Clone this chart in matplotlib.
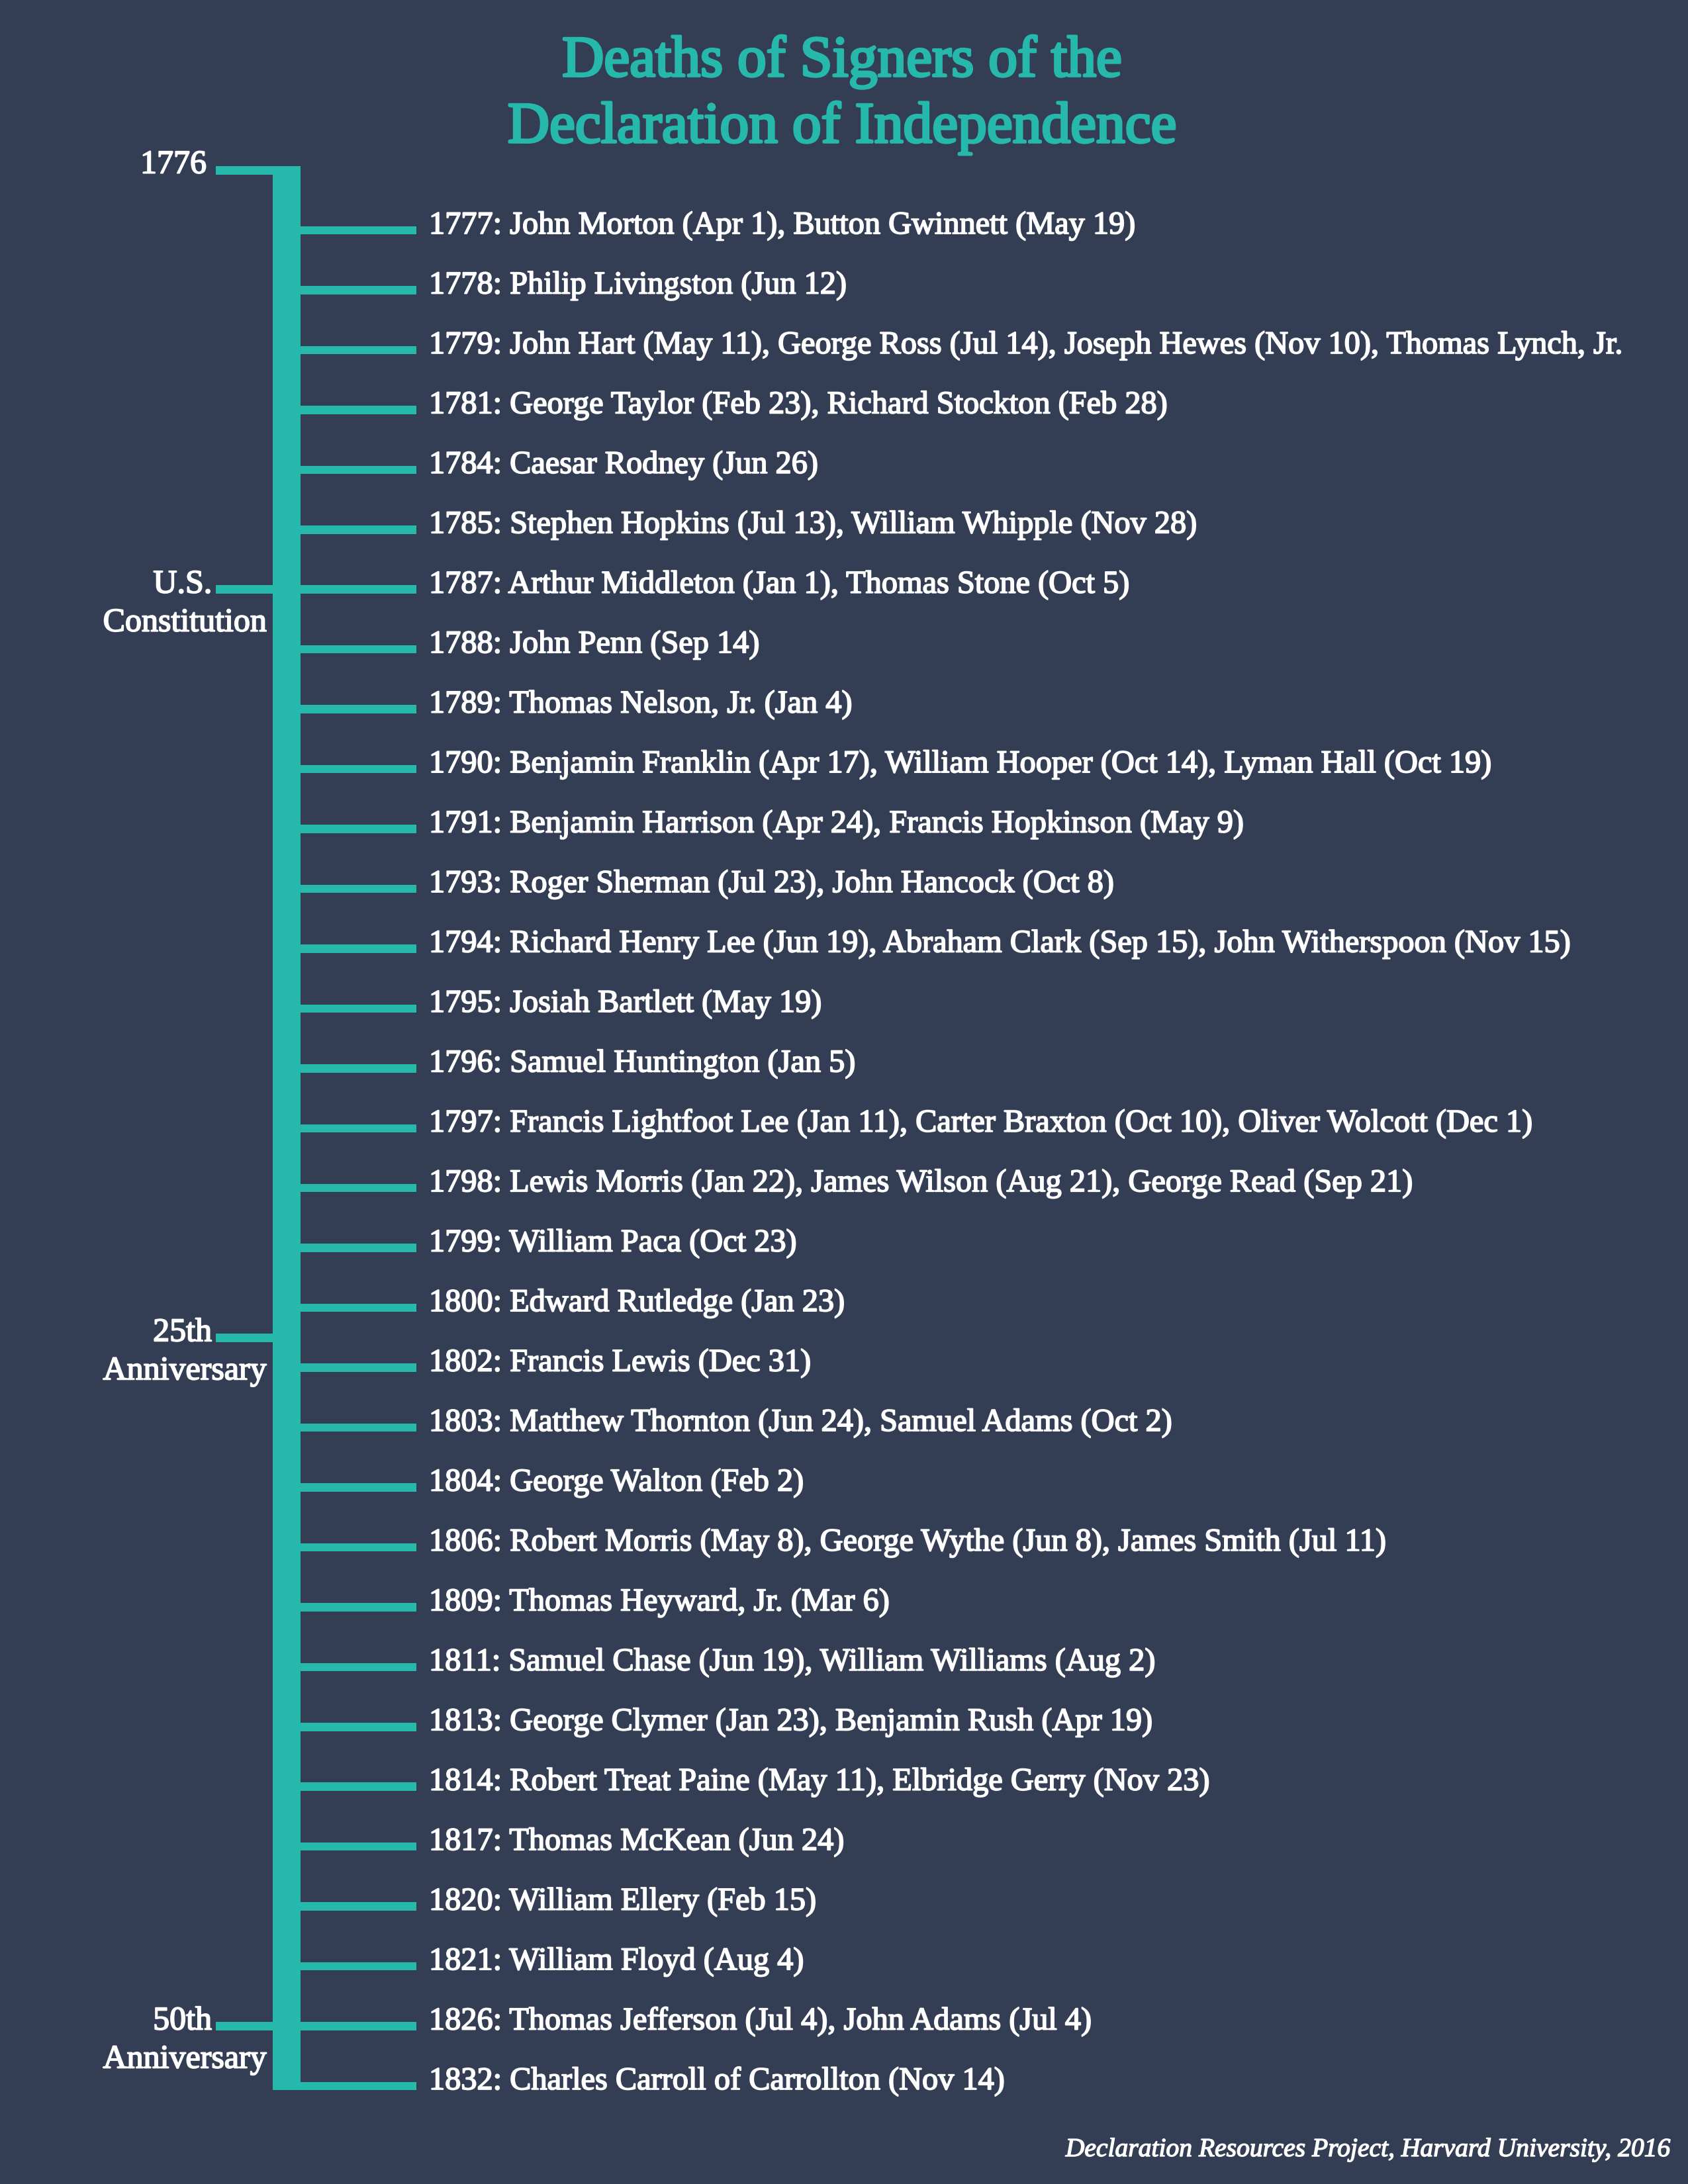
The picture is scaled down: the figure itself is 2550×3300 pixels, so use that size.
import numpy as np
import matplotlib
matplotlib.use("Agg")
import matplotlib.pyplot as plt
import matplotlib.patheffects as pe

# --- data ---
START_YEAR = "1776"
years = [1777, 1778, 1779, 1781, 1784, 1785, 1787, 1788, 1789, 1790, 1791,
         1793, 1794, 1795, 1796, 1797, 1798, 1799, 1800, 1802, 1803, 1804,
         1806, 1809, 1811, 1813, 1814, 1817, 1820, 1821, 1826, 1832]
signers = [
    "John Morton (Apr 1), Button Gwinnett (May 19)",
    "Philip Livingston (Jun 12)",
    "John Hart (May 11), George Ross (Jul 14), Joseph Hewes (Nov 10), Thomas Lynch, Jr.",
    "George Taylor (Feb 23), Richard Stockton (Feb 28)",
    "Caesar Rodney (Jun 26)",
    "Stephen Hopkins (Jul 13), William Whipple (Nov 28)",
    "Arthur Middleton (Jan 1), Thomas Stone (Oct 5)",
    "John Penn (Sep 14)",
    "Thomas Nelson, Jr. (Jan 4)",
    "Benjamin Franklin (Apr 17), William Hooper (Oct 14), Lyman Hall (Oct 19)",
    "Benjamin Harrison (Apr 24), Francis Hopkinson (May 9)",
    "Roger Sherman (Jul 23), John Hancock (Oct 8)",
    "Richard Henry Lee (Jun 19), Abraham Clark (Sep 15), John Witherspoon (Nov 15)",
    "Josiah Bartlett (May 19)",
    "Samuel Huntington (Jan 5)",
    "Francis Lightfoot Lee (Jan 11), Carter Braxton (Oct 10), Oliver Wolcott (Dec 1)",
    "Lewis Morris (Jan 22), James Wilson (Aug 21), George Read (Sep 21)",
    "William Paca (Oct 23)",
    "Edward Rutledge (Jan 23)",
    "Francis Lewis (Dec 31)",
    "Matthew Thornton (Jun 24), Samuel Adams (Oct 2)",
    "George Walton (Feb 2)",
    "Robert Morris (May 8), George Wythe (Jun 8), James Smith (Jul 11)",
    "Thomas Heyward, Jr. (Mar 6)",
    "Samuel Chase (Jun 19), William Williams (Aug 2)",
    "George Clymer (Jan 23), Benjamin Rush (Apr 19)",
    "Robert Treat Paine (May 11), Elbridge Gerry (Nov 23)",
    "Thomas McKean (Jun 24)",
    "William Ellery (Feb 15)",
    "William Floyd (Aug 4)",
    "Thomas Jefferson (Jul 4), John Adams (Jul 4)",
    "Charles Carroll of Carrollton (Nov 14)",
]
milestone_labels = ["U.S.\nConstitution", "25th\nAnniversary", "50th\nAnniversary"]
milestone_years = [1787, 1801, 1826]

TITLE = "Deaths of Signers of the\nDeclaration of Independence"
CREDIT = "Declaration Resources Project, Harvard University, 2016"

# --- style / layout (pixels on a 2550x3300 canvas) ---
BG = "#333d54"
TEAL = "#26b8ab"
FONT = "Liberation Serif"
W, H = 2550, 3300
ROW0_PX = 348.0      # y of first branch
ROW_PX = 90.45       # distance between branches
TRUNK_L, TRUNK_R = 412, 454
BRANCH_END = 629
TICK_L = 326
TEXT_X = 648
BAR_H = 12.5 / ROW_PX

# thin outline in the text colour fakes the semibold weight of the original
WHITE_FX = [pe.withStroke(linewidth=0.45, foreground="white")]
TEAL_FX = [pe.withStroke(linewidth=0.9, foreground=TEAL)]


def row(px):
    return (px - ROW0_PX) / ROW_PX


fig = plt.figure(figsize=(W / 300, H / 300), dpi=300, facecolor=BG)
ax = fig.add_axes([0, 0, 1, 1])
ax.set_facecolor(BG)
ax.set_xlim(0, W)
ax.set_ylim(row(H), row(0))
ax.axis("off")

rows = np.arange(len(years))
start_row = -1.0

# trunk
ax.bar(x=(TRUNK_L + TRUNK_R) / 2, width=TRUNK_R - TRUNK_L,
       bottom=start_row - BAR_H / 2,
       height=rows[-1] - start_row + BAR_H, color=TEAL, linewidth=0)

# branches, one per death year
ax.barh(rows, width=BRANCH_END - TRUNK_R, left=TRUNK_R, height=BAR_H,
        color=TEAL, linewidth=0)

lab_fs = 11.6
for r, yr, names in zip(rows, years, signers):
    ax.text(TEXT_X, r + 5 / ROW_PX, f"{yr}: {names}", color="white",
            fontsize=lab_fs, family=FONT, ha="left", va="baseline",
            path_effects=WHITE_FX)

# 1776 start tick
ax.barh([start_row], width=TRUNK_R - TICK_L, left=TICK_L, height=BAR_H,
        color=TEAL, linewidth=0)
ax.text(TICK_L - 14, start_row + 4 / ROW_PX, START_YEAR, color="white",
        fontsize=12, family=FONT, ha="right", va="baseline",
        path_effects=WHITE_FX)

# milestone ticks on the left
m_rows = np.interp(milestone_years, years, rows)
ax.barh(m_rows, width=TRUNK_R - TICK_L, left=TICK_L, height=BAR_H,
        color=TEAL, linewidth=0)
for r, lab in zip(m_rows, milestone_labels):
    first, second = lab.split("\n")
    ax.text(TICK_L - 6, r + 5 / ROW_PX, first, color="white",
            fontsize=12, family=FONT, ha="right", va="baseline",
            path_effects=WHITE_FX)
    ax.text(279, r + 63 / ROW_PX, second, color="white",
            fontsize=12, family=FONT, ha="center", va="baseline",
            path_effects=WHITE_FX)

# title
for i, line in enumerate(TITLE.split("\n")):
    fig.text(1272 / W, 1 - (115 + i * 100) / H, line, color=TEAL,
             fontsize=21, family=FONT, ha="center", va="baseline",
             path_effects=TEAL_FX)

# credit
fig.text(2525 / W, 1 - 3258 / H, CREDIT, color="white", fontsize=9.5,
         family=FONT, style="italic", ha="right", va="baseline",
         path_effects=[pe.withStroke(linewidth=0.35, foreground="white")])

fig.savefig("out.png", dpi=300, facecolor=BG)
